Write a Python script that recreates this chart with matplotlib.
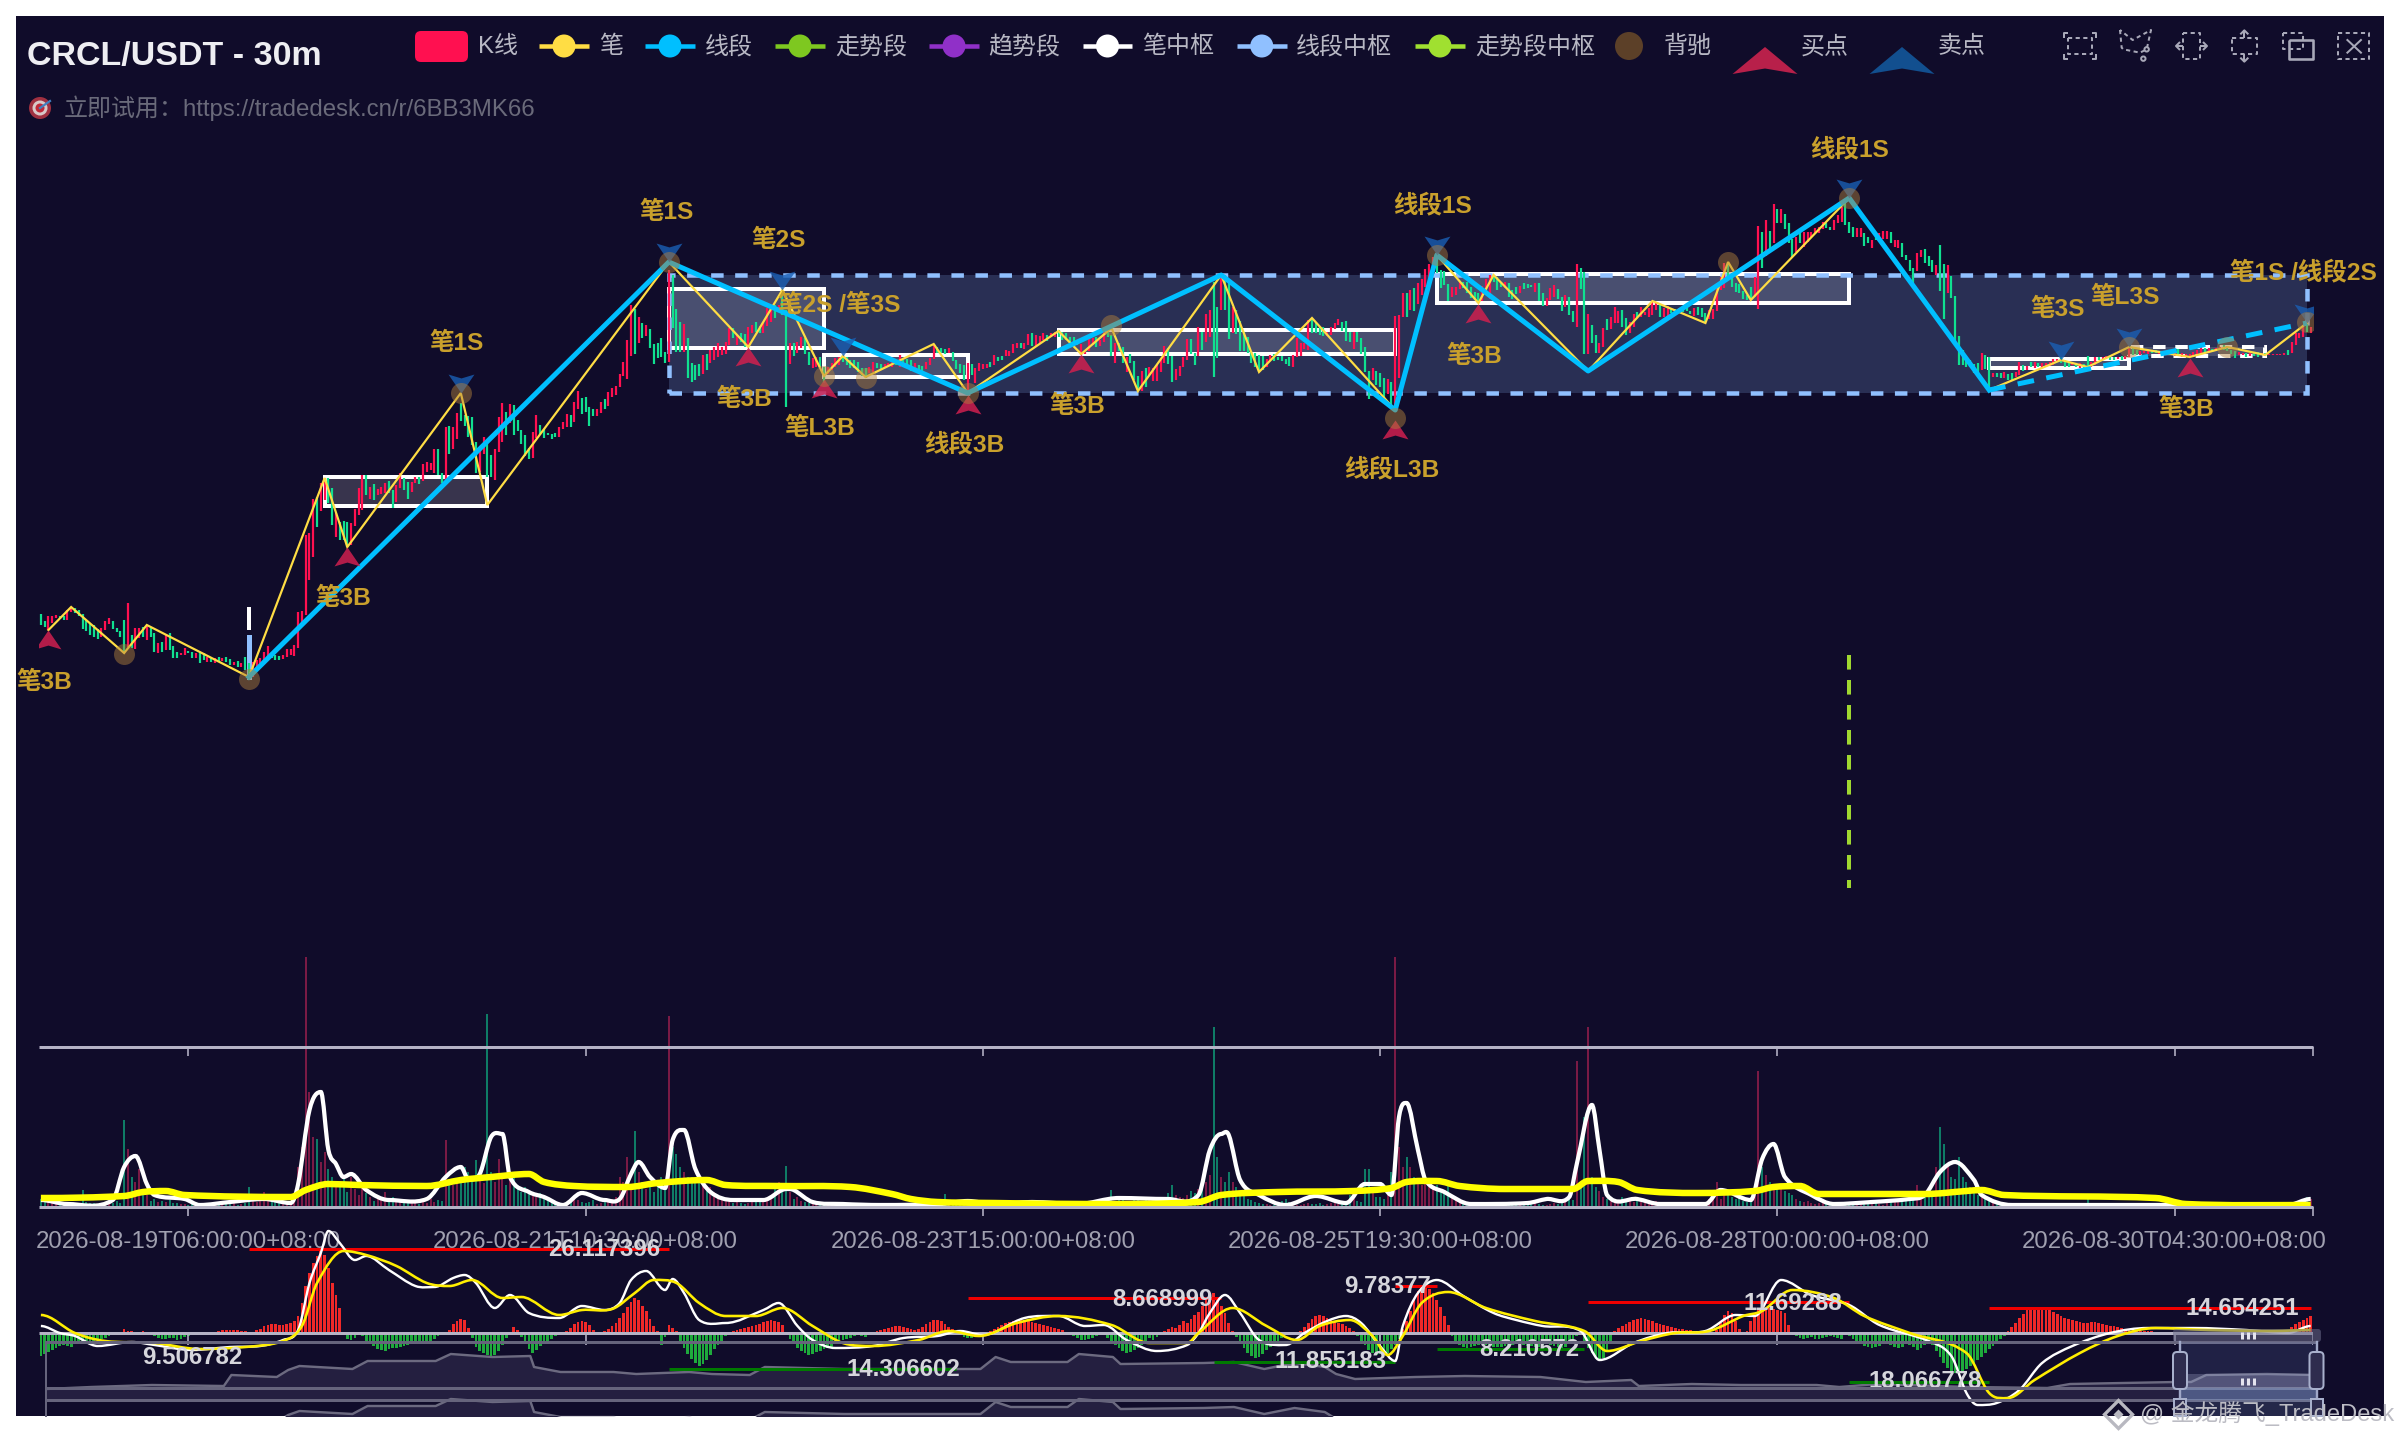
import matplotlib
matplotlib.use("Agg")
import matplotlib.pyplot as plt
from matplotlib.patches import Rectangle, FancyBboxPatch, Polygon, Circle, PathPatch
from matplotlib.path import Path

plt.rcParams['font.family'] = ['Liberation Sans', 'Noto Sans CJK SC', 'DejaVu Sans']
plt.rcParams['lines.scale_dashes'] = False

# ---------- data: candles as open,close pairs (red when close > open) ----------
candle_oc = [
86,75, 79,73, 70,84, 77,84, 82,85, 84,81, 84,80, 80,90, 88,93, 92,87,
90,84, 86,71, 80,69, 76,65, 75,63, 71,61, 63,72, 70,79, 76,82, 79,71,
72,68, 69,63, 80,47, 53,97, 65,52, 51,72, 62,72, 73,63, 60,75, 72,63,
67,48, 47,57, 58,48, 50,65, 67,50, 54,42, 48,42, 45,47, 45,52, 49,47,
48,42, 42,47, 47,37, 47,40, 38,43, 42,38, 37,42, 43,38, 39,42, 43,38,
41,35, 35,38, 39,33, 33,37, 43,30, 37,20, 23,38, 30,40, 35,42, 38,48,
42,54, 48,42, 45,40, 44,40, 41,45, 43,51, 45,51, 44,55, 52,88, 75,89,
85,165, 120,167, 143,201, 203,173, 189,217, 200,222, 222,197, 212,175, 163,187, 178,160,
179,160, 178,153, 155,177, 174,191, 185,212, 190,225, 225,205, 201,213, 216,200, 205,211,
206,213, 207,217, 219,207, 210,192, 198,215, 212,227, 222,210, 218,201, 208,218, 217,223,
223,216, 219,236, 228,238, 230,237, 227,251, 251,225, 227,217, 220,273, 274,246, 251,273,
261,287, 297,279, 285,274, 284,263, 283,255, 258,227, 228,253, 246,263, 258,223, 245,223,
220,251, 248,283, 258,297, 288,265, 277,296, 295,265, 280,269, 270,256, 265,244, 252,241,
242,268, 262,285, 275,265, 271,262, 267,265, 266,261, 267,263, 263,273, 271,278, 273,286,
285,273, 278,298, 291,309, 302,286, 303,288, 293,274, 291,284, 284,291, 287,298, 301,291,
294,308, 303,312, 305,314, 313,326, 324,338, 321,360, 344,395, 391,346, 357,383, 377,362,
364,375, 371,352, 356,336, 357,342, 362,343, 348,337, 338,430, 425,372, 391,348, 378,348,
348,376, 362,322, 337,318, 335,320, 336,324, 326,345, 346,330, 337,350, 340,353, 343,357,
345,353, 346,358, 355,372, 372,362, 355,365, 367,358, 366,353, 355,373, 367,375, 378,368,
374,367, 367,378, 374,392, 378,393, 395,382, 388,395, 409,385, 390,293, 336,357, 357,344,
347,358, 352,363, 362,346, 348,335, 332,342, 333,343, 343,333, 333,317, 326,333, 330,337,
333,342, 335,343, 345,338, 343,335, 340,332, 340,332, 338,328, 332,324, 332,322, 327,333,
328,338, 337,332, 336,331, 332,336, 333,337, 333,338, 340,335, 333,345, 340,335, 341,333,
340,329, 329,337, 335,330, 334,329, 331,338, 335,342, 341,356, 353,347, 352,347, 351,346,
347,352, 348,339, 340,331, 336,327, 335,320, 310,337, 336,325, 317,332, 329,337, 331,336,
332,336, 338,333, 335,345, 343,339, 344,340, 344,350, 344,349, 347,356, 352,357, 357,352,
351,357, 355,366, 367,354, 353,365, 357,364, 360,367, 365,359, 363,367, 363,368, 370,363,
368,360, 367,360, 363,357, 363,356, 359,355, 345,356, 346,348, 349,362, 355,362, 363,353,
354,360, 358,372, 373,363, 365,344, 337,357, 357,349, 353,337, 328,343, 346,337, 339,320,
324,309, 309,329, 332,313, 325,333, 319,332, 319,335, 328,341, 337,354, 352,336, 344,318,
320,331, 324,334, 333,343, 340,361, 361,346, 347,335, 344,373, 368,350, 358,386, 363,390,
418,323, 393,342, 390,425, 425,390, 420,361, 367,393, 390,366, 379,349, 368,349, 363,347,
349,337, 347,333, 345,328, 344,330, 333,341, 339,345, 346,339, 343,340, 344,339, 341,336,
343,334, 333,345, 343,362, 344,357, 351,357, 350,380, 381,367, 378,367, 373,365, 373,364,
364,368, 365,373, 371,377, 375,381, 378,369, 379,359, 368,358, 351,368, 368,358, 362,346,
353,328, 329,301, 320,332, 329,315, 327,313, 322,302, 306,321, 318,292, 292,384, 322,385,
383,407, 407,383, 390,410, 412,389, 396,417, 405,421, 413,431, 418,436, 428,443, 445,427,
430,412, 429,415, 416,399, 403,413, 405,413, 411,418, 418,412, 418,407, 413,402, 408,400,
407,397, 399,414, 405,421, 401,425, 425,418, 423,410, 418,413, 412,418, 417,403, 410,401,
413,406, 407,414, 417,411, 416,412, 415,413, 408,417, 417,399, 407,394, 394,402, 400,412,
403,415, 411,401, 403,389, 393,405, 403,385, 389,378, 373,436, 432,411, 428,346, 346,386,
375,357, 365,347, 347,357, 353,372, 381,370, 371,383, 377,393, 377,389, 390,373, 382,365,
367,378, 373,386, 388,383, 383,393, 385,388, 383,392, 385,399, 390,398, 396,383, 383,392,
384,394, 392,387, 391,387, 387,392, 392,388, 394,389, 389,386, 384,392, 393,385, 392,383,
387,378, 381,390, 381,391, 389,417, 410,423, 412,437, 438,420, 427,413, 417,408, 416,407,
409,401, 405,400, 413,400, 403,423, 391,474, 468,432, 444,480, 469,452, 457,496, 491,477,
477,491, 486,471, 477,457, 461,443, 448,463, 470,457, 453,468, 458,468, 463,468, 467,472,
467,473, 471,478, 477,472, 473,470, 470,480, 477,485, 478,493, 497,475, 478,467, 473,463,
463,472, 463,472, 467,454, 463,457, 452,460, 465,460, 461,467, 461,469, 461,469, 468,457,
453,460, 452,460, 457,443, 445,440, 440,429, 432,417, 429,447, 443,450, 451,437, 444,434,
440,428, 425,435, 455,409, 436,381, 407,435, 424,402, 404,357, 364,335, 350,335, 342,333,
340,333, 336,327, 337,327, 330,347, 345,331, 343,309, 323,327, 327,323, 327,322, 322,328,
326,320, 327,320, 323,328, 325,338, 335,329, 330,334, 338,333, 332,338, 337,333, 332,337,
333,337, 334,338, 335,341, 338,341, 343,337, 340,333, 338,333, 335,338, 337,333, 332,337,
336,332, 344,333, 333,338, 335,343, 343,340, 341,343, 341,344, 343,340, 343,340, 341,343,
344,340, 341,344, 343,353, 353,345, 350,345, 345,349, 347,349, 346,349, 349,347, 350,347,
346,349, 346,348, 348,345, 345,347, 344,347, 351,345, 343,347, 343,346, 343,346, 343,348,
346,350, 347,353, 352,347, 347,352, 351,348, 349,352, 350,353, 355,350, 354,349, 350,346,
349,342, 345,348, 345,347, 347,343, 344,347, 348,344, 348,343, 345,347, 347,344, 345,346,
345,346, 345,346, 345,346, 345,347, 350,345, 347,358, 355,367, 362,367, 363,375, 376,368,
367,373,
]
candle_open = candle_oc[0::2]
candle_close = candle_oc[1::2]

volume_vals = [
8,7,6,5,4,3,4,3,4,3,4,17,5,4,4,3,3,4,5,4,
6,4,87,58,30,25,38,18,12,6,8,5,6,5,7,4,4,3,3,2,
3,2,3,4,2,3,3,2,3,4,3,5,2,3,4,20,6,5,8,15,
10,6,5,4,3,4,6,10,40,60,250,115,70,68,45,55,38,30,22,25,
28,15,30,18,12,20,14,10,6,8,9,15,8,10,6,5,4,6,4,5,
3,5,4,8,5,7,6,67,28,22,25,24,40,35,30,47,30,24,193,35,
25,48,30,22,28,35,18,15,20,16,14,10,14,12,10,8,6,5,4,5,
6,8,7,5,4,5,7,3,4,5,6,8,10,30,25,50,22,76,35,25,
18,20,15,22,30,26,191,60,53,40,35,30,30,25,24,22,18,20,15,12,
10,8,6,4,5,4,3,4,6,8,6,5,6,8,20,25,18,41,15,8,
10,6,5,4,3,2,2,3,2,2,2,1,2,1,2,1,1,1,1,1,
1,1,1,2,1,1,1,1,1,2,2,2,1,2,1,2,3,2,1,13,
3,5,6,3,2,3,2,2,2,3,2,3,2,2,2,1,2,1,2,3,
2,1,2,1,2,2,1,2,1,1,2,2,3,2,4,2,3,2,2,4,
6,4,5,17,6,8,10,6,5,7,8,6,10,8,9,6,8,10,14,22,
12,10,9,12,16,14,18,20,25,32,180,50,30,25,35,25,20,14,12,8,
7,5,4,3,3,2,2,4,6,8,5,3,2,2,3,4,3,3,4,2,
3,4,5,3,3,6,12,8,6,5,38,38,15,10,10,8,12,35,250,60,
40,50,40,30,24,22,25,20,18,22,15,14,22,10,8,6,4,5,4,3,
3,2,3,2,3,4,2,3,2,2,2,3,2,3,3,4,3,2,2,3,
4,3,5,6,8,7,146,20,90,180,30,20,16,10,8,6,5,6,10,8,
7,5,6,5,4,3,3,6,5,3,2,2,3,4,3,2,3,4,3,4,
5,8,10,25,8,12,15,10,8,14,6,5,10,12,136,40,32,25,20,22,
18,16,14,12,8,6,5,6,4,3,4,5,3,4,3,2,3,4,5,4,
3,4,3,5,3,4,3,2,4,5,6,7,8,6,9,10,22,8,14,18,
16,40,80,63,40,30,28,50,30,25,20,14,12,10,8,6,5,3,2,3,
2,2,1,2,1,2,1,1,1,1,2,1,1,1,1,2,1,1,2,2,
1,8,1,2,1,2,1,1,1,1,1,1,2,1,1,1,1,1,1,1,
1,1,1,1,1,1,1,1,1,2,1,1,1,1,1,1,1,1,1,1,
1,1,1,1,1,1,1,1,1,1,1,1,2,2,3,4,6,6,8,10,8,
]

macd_hist = [
-23,-21,-19,-17,-15,-13,-12,-13,-14,-10,-10,-9,-8,-8,-8,-7,-6,-5,-3,-2,
-2,-1,4,2,2,1,1,2,1,1,-3,-5,-6,-6,-5,-5,-7,-6,-4,-3,
-2,-1,0,0,1,1,1,2,3,3,3,3,3,2,2,1,1,3,4,7,
8,9,9,8,8,9,10,12,17,30,47,60,70,77,83,78,65,50,38,25,
-1,-6,-7,-5,-2,-3,-8,-10,-13,-16,-17,-18,-16,-15,-15,-14,-13,-12,-10,-8,
-8,-10,-11,-8,-6,-3,-1,1,3,9,12,14,13,5,-5,-14,-18,-20,-22,-23,
-22,-18,-12,-5,1,6,3,-4,-11,-16,-20,-17,-13,-10,-8,-6,-3,-1,0,2,
5,9,11,12,11,8,3,0,1,2,4,7,10,15,20,26,31,35,33,27,
22,14,7,2,-12,-4,8,5,2,-8,-15,-21,-26,-30,-33,-31,-27,-22,-16,-12,
-8,-3,1,2,3,4,5,6,7,8,9,11,12,13,12,11,8,-1,-6,-11,
-15,-18,-20,-22,-21,-19,-18,-16,-15,-14,-10,-8,-7,-6,-5,-3,-2,-3,-4,-2,
1,2,3,4,5,6,7,7,6,5,4,3,4,6,9,11,13,13,12,9,
6,4,1,-2,-4,-5,-5,-4,-2,-1,1,2,4,6,8,10,11,12,13,13,
13,12,11,10,9,8,7,6,5,4,3,1,-1,-3,-5,-7,-7,-6,-5,-3,
-2,-1,-5,-9,-12,-15,-18,-20,-19,-17,-15,-12,-9,-5,-7,-4,-1,2,4,6,
5,8,12,10,14,18,21,27,33,38,40,33,27,20,10,2,-4,-9,-15,-20,
-23,-25,-24,-21,-17,-14,-11,-8,-5,-2,1,0,-1,2,6,10,14,17,18,17,
15,13,12,10,9,7,5,2,-3,-8,-12,-17,-20,-22,-21,-18,-20,-16,-12,-6,
4,12,22,33,42,48,46,44,40,33,26,17,8,-3,-10,-12,-14,-15,-14,-13,
-12,-11,-12,-13,-14,-14,-14,-13,-13,-12,-11,-11,-12,-13,-13,-14,-14,-12,-11,-12,
-13,-14,-15,-14,-10,-8,-3,-1,-8,-15,-20,-24,-27,-25,-18,-8,2,5,7,9,
11,13,14,15,14,13,12,10,9,8,7,6,5,4,4,3,3,2,2,1,
1,-1,-2,3,10,18,22,20,12,4,1,2,12,20,24,25,25,25,24,23,
22,20,8,1,-3,-5,-6,-5,-4,-6,-6,-5,-4,-3,-4,-5,-6,-2,-3,-6,
-8,-11,-13,-14,-15,-14,-13,-11,-10,-12,-14,-15,-14,-11,-12,-14,-17,-15,-12,-9,
-12,-18,-24,-30,-35,-38,-40,-40,-38,-36,-33,-30,-27,-24,-20,-16,-13,-9,-6,-3,
2,6,10,15,19,23,25,26,26,26,25,23,21,19,17,15,14,13,12,11,
10,10,11,11,10,9,8,7,7,6,5,4,4,3,3,2,2,2,2,1,
1,1,1,1,0,-1,-1,-1,-1,-1,-1,-1,-2,-2,-2,-2,-2,-2,-1,-1,
0,-2,-2,-1,-2,-2,-2,-1,-1,0,1,1,1,1,3,6,9,11,13,15,17,
]

dif_idx = [0,5,9,15,24,30,40,50,58,64,68,71,74,76,79,83,86,92,99,104,109,112,115,120,124,129,137,143,149,153,156,160,165,167,170,174,181,191,195,200,204,210,220,228,237,243,249,260,269,276,281,287,295,303,306,309,313,317,322,329,334,340,345,349,354,358,360,364,369,376,384,390,397,407,412,421,430,440,448,453,460,468,478,486,499,505,509,512,517,523,529,537,547,557,569,583,594,600]
dif_val = [7,0,-3,-13,-9,-12,-17,-14,-13,-7,3,50,80,102,90,73,77,63,47,46,55,58,50,25,38,20,15,27,23,30,53,62,43,54,40,13,10,23,30,7,-7,-15,-13,-5,-3,2,-2,15,17,7,8,-7,-18,-12,0,20,38,20,-7,-12,0,12,17,10,-13,-28,7,40,53,37,20,13,7,2,-27,-10,0,2,18,17,53,38,28,8,-8,-23,-60,-72,-70,-57,-30,-13,0,5,5,3,0,7]
dea_idx = [0,9,17,30,42,54,64,69,73,80,86,94,102,108,114,122,127,137,143,151,157,162,168,174,181,189,196,204,212,220,232,240,248,258,269,283,293,303,306,315,324,332,338,346,352,356,360,365,372,382,395,408,414,423,432,441,450,455,463,474,482,494,509,515,520,527,539,549,559,573,590,600]
dea_val = [18,0,-8,-10,-16,-14,-8,7,50,82,78,67,50,47,53,35,36,18,23,24,40,53,50,30,17,17,25,7,-10,-13,-7,2,-3,10,17,8,-10,-10,0,25,7,-7,7,13,-3,-22,-3,30,41,25,12,2,-18,-8,0,2,17,22,43,35,17,0,-20,-60,-65,-47,-20,-3,5,3,2,3]

vol_ma5_idx = [0,7,19,22,25,28,30,38,42,50,59,66,68,71,74,76,78,80,82,86,92,102,107,111,113,116,119,122,124,129,133,138,143,149,153,156,158,161,165,167,170,173,177,183,191,197,199,204,212,222,238,245,252,262,274,285,298,306,309,312,314,317,322,329,337,345,350,354,357,359,361,364,366,371,378,393,398,404,406,410,412,414,422,428,440,444,452,455,458,461,468,474,484,494,498,502,506,511,513,521,549,594,600]
vol_ma5_val = [7,3,7,40,51,23,12,8,2,5,8,4,23,97,115,57,43,30,33,17,7,8,30,40,28,33,70,73,30,15,10,2,14,7,8,33,45,30,19,67,77,38,15,7,7,18,17,5,3,2,3,6,3,5,3,9,8,12,57,73,72,27,12,2,11,4,23,23,12,90,104,57,27,15,3,4,8,10,43,102,57,12,8,3,3,17,7,48,63,30,12,3,5,8,12,35,45,27,12,2,2,2,8]
vol_ma20_idx = [0,22,27,33,38,66,70,76,84,102,111,119,129,133,141,155,163,176,181,195,214,225,230,237,252,276,306,312,327,347,357,361,369,375,387,405,409,417,422,438,453,458,465,470,498,509,513,519,559,567,600]
vol_ma20_val = [9,11,15,16,12,10,17,23,22,21,27,30,33,25,21,20,24,27,22,21,20,13,8,5,4,3,5,12,15,16,19,25,26,21,18,18,26,25,17,14,16,20,21,13,13,16,17,12,9,3,2]

pen_idx = [2,8,22,28,55,75,81,111,118,166,187,196,207,212,218,236,245,269,275,283,290,312,322,336,358,369,380,384,409,426,440,446,452,478,515,534,541,552,568,578,588,599]
pen_val = [70,93,47,75,23,222,153,307,195,438,353,410,324,344,323,356,307,369,346,372,309,425,328,382,290,445,397,425,329,399,377,438,400,502,310,340,333,353,343,353,345,377]
seg_idx = [55,166,245,312,358,369,409,478,515]
seg_val = [23,438,307,425,290,445,329,502,310]
seg_open_idx = [515,599]
seg_open_val = [310,377]

pen_hub_start = [75,166,207,269,369,515]
pen_hub_end = [118,207,245,358,478,552]
pen_hub_low = [194,352,323.5,346,397,332]
pen_hub_high = [223,411,345.5,370,426,341]
open_hub = (552,588,344,353)
seg_hub = (166,599,307.4,425.4)

buy_idx = [2,81,187,207,245,275,380,358,568]
buy_val = [70,153,353,321,305,346,396,280,342]
sell_idx = [111,166,196,212,369,478,534,552,599]
sell_val = [307,438,410,344,445,502,340,353,377]
div_idx = [22,55,111,166,207,218,245,283,358,369,446,478,552,578,599]
div_val = [46,21,307,438,324,322,307,375,282,445,438,502,353,353,378]

label_texts = ['笔3B','笔3B','笔1S','笔1S','笔2S','笔2S /笔3S','笔3B','笔L3B','线段3B','笔3B','线段1S','线段1S','笔3B','线段L3B','笔3S','笔L3S','笔1S /线段2S','笔3B']
label_idx = [0.8,80,110,165.5,195,211,186,206,244,274,368,478,379,357,533,551,598,567]
label_val = [17.5,101.5,356.5,487.5,459.5,394.5,300.5,271.5,255.5,293.5,494.5,550.5,344,230.5,390.5,402.5,427.5,290.5]

tick_idx = [39,144,249,354,459,564]
tick_labels = ['2026-08-19T06:00:00+08:00','2026-08-21T10:30:00+08:00','2026-08-23T15:00:00+08:00',
               '2026-08-25T19:30:00+08:00','2026-08-28T00:00:00+08:00','2026-08-30T04:30:00+08:00']

mark_texts = ['26.117396','9.506782','14.306602','8.668999','9.78377','11.855183','8.210572','11.69288','14.654251','18.066778']
mark_idx = [149,40,228,296.4,356,341,393.4,463,582,498]
mark_val = [83.5,-24.5,-36.5,33.5,46.5,-28.5,-16.5,29.5,24.5,-48.5]
red_line_start = [55,245,358,409,515]
red_line_end = [166,312,369,478,600]
red_line_val = [84,35,47,31,25]
green_line_start = [166,310,369,478]
green_line_end = [242,358,408,515]
green_line_val = [-36,-29,-16,-49]

slider_idx = [0,12,28,47,49,61,64,67,81,85,103,107,118,128,129,136,150,156,170,176,186,190,211,229,247,251,255,270,273,282,284,306,314,322,330,338,341,346,362,375,395,407,419,421,435,448,468,474,484,508,529,535,563,567,571,587,600]
slider_val = [-1,1,3,2,13,11,18,22,19,27,27,34,31,32,21,16,16,14,16,14,13,21,19,19,19,31,26,26,34,31,24,25,26,19,25,21,14,9,11,12,11,6,8,2,4,3,3,1,4,1,0,4,6,6,13,14,13]

# ---------- style ----------
BG = '#100c2a'
RED, GREEN = '#ff1050', '#10e090'
GOLD = '#c9a02c'
BLUE_HUB = '#90c0ff'
YEL = '#ffdd44'
CYAN = '#00bfff'
AXC = '#b5b3c6'
W, H = 2400, 1440
PT = 72 / 100  # points per pixel at dpi 100

fig = plt.figure(figsize=(24, 14.4), dpi=100, facecolor='white')


def px_axes(x0, y0, x1, y1, z):
    a = fig.add_axes([x0 / W, 1 - y1 / H, (x1 - x0) / W, (y1 - y0) / H], zorder=z)
    a.axis('off')
    a.patch.set_alpha(0)
    return a


def smooth_line(a, xv, yv, **kw):
    """Draw a polyline through the given points with monotone cubic joins."""
    m = []
    for k in range(len(xv)):
        if k == 0 or k == len(xv) - 1:
            m.append(0.0)
            continue
        d0 = yv[k] - yv[k - 1]
        d1 = yv[k + 1] - yv[k]
        m.append(0.0 if d0 * d1 <= 0 else (yv[k + 1] - yv[k - 1]) / (xv[k + 1] - xv[k - 1]))
    verts = [(xv[0], yv[0])]
    codes = [Path.MOVETO]
    for k in range(len(xv) - 1):
        dx = (xv[k + 1] - xv[k]) / 3
        verts += [(xv[k] + dx, yv[k] + m[k] * dx), (xv[k + 1] - dx, yv[k + 1] - m[k + 1] * dx), (xv[k + 1], yv[k + 1])]
        codes += [Path.CURVE4] * 3
    a.add_patch(PathPatch(Path(verts, codes), fc='none', clip_on=False, **kw))


L, R = 39, 2312.6
ax_bg = px_axes(0, 0, W, H, 0)
ax_bg.set_xlim(0, W); ax_bg.set_ylim(H, 0)
ax_bg.add_patch(Rectangle((16, 16), 2368, 1400, fc=BG, ec='none'))

n_bars = len(candle_open)
xs = list(range(n_bars))

# ---------- main chart ----------
ax = px_axes(L, 100, R, 1000, 2)
ax.set_xlim(-0.5, 600.5)
ax.set_ylim(-300, 600)

s, e, lo, hi = seg_hub
for st, en, l, h in zip(pen_hub_start, pen_hub_end, pen_hub_low, pen_hub_high):
    ax.add_patch(Rectangle((st, l), en - st, h - l, fc='white', alpha=0.17, ec='none', zorder=1))
    ax.add_patch(Rectangle((st, l), en - st, h - l, fc='none', ec='white', lw=4 * PT, zorder=2.5))
st, en, l, h = open_hub
ax.add_patch(Rectangle((st, l), en - st, h - l, fc='white', alpha=0.17, ec='none', zorder=1))
ax.add_patch(Rectangle((st, l), en - st, h - l, fc='none', ec='white', lw=4 * PT, ls=(0, (9, 7)), zorder=2.5))
ax.add_patch(Rectangle((s, lo), e - s, hi - lo, fc=BLUE_HUB, alpha=0.2, ec='none', zorder=1))
ax.add_patch(Rectangle((s, lo), e - s, hi - lo, fc='none', ec=BLUE_HUB, lw=4.5 * PT, ls=(0, (9, 8.3)), zorder=2.6))

# degenerate hubs (start and end at the same bar)
ax.plot([55, 55], [93, 70], color='white', lw=4 * PT, ls=(0, (20, 100)), zorder=2.5)
ax.plot([55, 55], [63, 23], color=BLUE_HUB, lw=5 * PT, zorder=2.5)
ax.plot([478, 478], [45, -188], color='#a0d830', lw=4 * PT, ls=(0, (10.5, 7.5)), zorder=2.5)

up = [c > o for o, c in zip(candle_open, candle_close)]
ax.vlines(xs, [min(o, c) for o, c in zip(candle_open, candle_close)],
          [max(o, c) for o, c in zip(candle_open, candle_close)],
          colors=[RED if u else GREEN for u in up], lw=2.2 * PT, zorder=3)

ax.plot(pen_idx, pen_val, color=YEL, lw=2.2 * PT, zorder=4, solid_joinstyle='miter')
ax.plot(seg_idx, seg_val, color=CYAN, lw=5 * PT, zorder=5)
ax.plot(seg_open_idx, seg_open_val, color=CYAN, lw=5 * PT, ls=(0, (12, 9)), zorder=5)

arrow_up = Path([(0, 0), (1, -1.46), (0, -1.16), (-1, -1.46), (0, 0)], closed=True)
arrow_dn = Path([(0, 0), (1, 1.46), (0, 1.16), (-1, 1.46), (0, 0)], closed=True)
ax.plot(buy_idx, buy_val, ls='none', marker=arrow_up, ms=27.3, mfc='#d0204f', mec='none', alpha=0.85, zorder=6)
ax.plot(sell_idx, sell_val, ls='none', marker=arrow_dn, ms=27.3, mfc='#1a5fb4', mec='none', alpha=0.8, zorder=6)
ax.plot(div_idx, div_val, ls='none', marker='o', ms=21 * PT, mfc='#b0803c', mec='none', alpha=0.48, zorder=7)

for t, i, v in zip(label_texts, label_idx, label_val):
    ax.text(i, v, t, color=GOLD, fontsize=24.5 * PT, fontweight='bold', ha='center', va='center', zorder=8, clip_on=False)

# ---------- volume ----------
ax_v = px_axes(L, 957, R, 1207, 3)
ax_v.set_xlim(-0.5, 600.5)
ax_v.set_ylim(0, 250)
ax_v.vlines(xs, 0, volume_vals, colors=['#7a1a45' if u else '#0f7c66' for u in up], lw=2 * PT, zorder=1)
smooth_line(ax_v, vol_ma5_idx, vol_ma5_val, ec='white', lw=4.2 * PT, zorder=2)
smooth_line(ax_v, vol_ma20_idx, vol_ma20_val, ec='#ffff00', lw=6.5 * PT, zorder=3)
for yv in (160, 0):
    ax_v.plot([-0.5, 600.5], [yv, yv], color=AXC, lw=3 * PT, zorder=4, clip_on=False, solid_capstyle='butt')
    ax_v.vlines(tick_idx + [600.5], yv, yv - 9, colors=AXC, lw=1.6 * PT, zorder=4, clip_on=False)
for i, t in zip(tick_idx, tick_labels):
    ax_v.text(i, -35, t, color='#a0a0b0', fontsize=24 * PT, ha='center', va='center', clip_on=False)

# ---------- dataZoom slider ----------
ax_s = px_axes(46, 1342, 2316, 1416, 1)
ax_s.set_xlim(0, 600)
ax_s.set_ylim(-28, 46)
ax_s.fill_between(slider_idx, slider_val, 0, color='#241f40', zorder=1)
ax_s.plot(slider_idx, slider_val, color='#6c6a80', lw=2.4 * PT, zorder=2)
lower = [v - 45 for v in slider_val]
ax_s.fill_between(slider_idx, lower, -45, color='#241f40', zorder=1)
ax_s.plot(slider_idx, lower, color='#6c6a80', lw=2.4 * PT, zorder=2)
ax_s.add_patch(Rectangle((0, -12), 600, 12, fc='#241f40', ec='none', zorder=1))

# ---------- MACD ----------
ax_m = px_axes(L, 1240, R, 1420, 4)
ax_m.set_xlim(-0.5, 600.5)
ax_m.set_ylim(-87, 93)
ax_m.bar(xs, macd_hist, width=0.72, color=['#f02828' if v >= 0 else '#1eaa3c' for v in macd_hist], zorder=1)
ax_m.plot([-0.5, 600.5], [0, 0], color=AXC, lw=3 * PT, zorder=2, solid_capstyle='butt')
ax_m.vlines(tick_idx + [600.5], 0, -12, colors=AXC, lw=1.6 * PT, zorder=2)
ax_m.hlines(red_line_val, red_line_start, red_line_end, colors='#f00000', lw=3 * PT, zorder=3)
ax_m.hlines(green_line_val, green_line_start, green_line_end, colors='#007a00', lw=3 * PT, zorder=3)
smooth_line(ax_m, dif_idx, dif_val, ec='white', lw=2.4 * PT, zorder=4)
smooth_line(ax_m, dea_idx, dea_val, ec='#ffee00', lw=2.6 * PT, zorder=5)
for t, i, v in zip(mark_texts, mark_idx, mark_val):
    ax_m.text(i, v, t, color='#d6d6dc', fontsize=24 * PT, fontweight='bold', ha='center', va='center', zorder=6, clip_on=False)

# ---------- overlay: title, legend, toolbox, slider frame, watermark ----------
ui = px_axes(0, 0, W, H, 5)
ui.set_xlim(0, W); ui.set_ylim(H, 0)
ui.text(27, 57, 'CRCL/USDT - 30m', color='#eeeef2', fontsize=34 * PT, fontweight='bold', va='center')
ui.add_patch(Circle((40, 108), 11, fc='#a03040', ec='none'))
ui.add_patch(Circle((40, 108), 7.5, fc='#d8c8c8', ec='none'))
ui.add_patch(Circle((40, 108), 4.5, fc='#c02838', ec='none'))
ui.plot([40, 50], [108, 101], color='#4080c0', lw=1.6)
ui.text(63.5, 108, '立即试用：https://tradedesk.cn/r/6BB3MK66', color='#6a6a7a', fontsize=24 * PT, va='center')

LEG_T = '#b8b8c4'
LY = 47
ui.add_patch(FancyBboxPatch((421, 37), 41, 19, boxstyle='round,pad=6,rounding_size=6', fc=RED, ec='none'))
ui.text(478, LY, 'K线', color=LEG_T, fontsize=24 * PT, va='center')
legend_items = [(539, 589, 599, '笔', '#ffdd44'), (645, 695, 705, '线段', CYAN),
                (775, 825, 835, '走势段', '#7ec820'), (929, 979, 988.5, '趋势段', '#9030c8'),
                (1083, 1132, 1142, '笔中枢', 'white'), (1237, 1286.5, 1296, '线段中枢', BLUE_HUB),
                (1415, 1465, 1475, '走势段中枢', '#a0e030')]
for x0, x1, tx, t, c in legend_items:
    ui.plot([x0, x1], [46, 46], color=c, lw=4.5 * PT, solid_capstyle='butt')
    ui.add_patch(Circle(((x0 + x1) / 2, 46), 11.5, fc=c, ec='none'))
    ui.text(tx, LY, t, color=LEG_T, fontsize=24 * PT, va='center')
ui.add_patch(Circle((1629, 46), 14, fc='#5c4028', ec='none'))
ui.text(1664, LY, '背驰', color=LEG_T, fontsize=24 * PT, va='center')
for x0, c, tx, t in [(1732.5, '#b8204a', 1800.6, '买点'), (1869.5, '#124f8f', 1937, '卖点')]:
    ui.add_patch(Polygon([(x0 + 32.5, 47), (x0 + 65, 74), (x0 + 32.5, 68.5), (x0, 74)], fc=c, ec='none'))
    ui.text(tx, LY, t, color=LEG_T, fontsize=24 * PT, va='center')

IC = '#a8a8b8'


def zx(X):
    return 2040 + X / 3


def zy(Y):
    return 16 + Y / 3


def icon(Xs, Ys, ls='-', lw=2):
    ui.plot([zx(v) for v in Xs], [zy(v) for v in Ys], color=IC, lw=lw * PT, ls=ls, solid_capstyle='butt')


DOT = (0, (3, 2.5))
icon([72, 72, 85], [65, 52, 52]); icon([155, 167, 167], [52, 52, 65])
icon([72, 72, 85], [115, 128, 128]); icon([155, 167, 167], [128, 128, 115])
icon([85, 155, 155, 85, 85], [65, 65, 115, 115, 65], DOT)
icon([240, 245, 250, 300, 320, 333, 278, 240], [42, 95, 100, 110, 100, 42, 72, 42], DOT)
ui.add_patch(Circle((zx(320), zy(100)), 2.2, fc='none', ec=IC, lw=1.4))
ui.add_patch(Circle((zx(310), zy(128)), 2.2, fc='none', ec=IC, lw=1.4))
icon([430, 480, 480, 430, 430], [52, 52, 128, 128, 52], DOT)
icon([408, 430], [90, 90]); icon([420, 408, 420], [78, 90, 102])
icon([480, 501], [90, 90]); icon([489, 501, 489], [78, 90, 102])
icon([575, 652, 652, 575, 575], [65, 65, 115, 115, 65], DOT)
icon([613, 613], [43, 65]); icon([601, 613, 625], [55, 43, 55])
icon([613, 613], [115, 137]); icon([601, 613, 625], [125, 137, 125])
icon([728, 790, 790, 728, 728], [52, 52, 100, 100, 52], DOT)
icon([747, 820, 820, 747, 747], [72, 72, 128, 128, 72], lw=2.6)
icon([895, 988, 988, 895, 895], [52, 52, 128, 128, 52], DOT)
icon([920, 965], [70, 112]); icon([965, 920], [70, 112])

# slider frame
FR = '#66647c'
for yy in (1342, 1388, 1400):
    ui.plot([46, 2316], [yy, yy], color=FR, lw=3 * PT, solid_capstyle='butt', zorder=1)
ui.plot([46, 46], [1342, 1416], color=FR, lw=2 * PT, zorder=1)
ui.add_patch(Rectangle((2180, 1342), 137, 32, fc='#8fb0ff', alpha=0.13, ec='none', zorder=1))
ui.add_patch(Rectangle((2180, 1374), 137, 14, fc='#9aa6d0', alpha=0.40, ec='none', zorder=1))
ui.add_patch(Rectangle((2180, 1388), 137, 12, fc='#88a8e0', alpha=0.42, ec='none', zorder=1))
ui.add_patch(Rectangle((2180, 1400), 137, 16, fc='#88a8e0', alpha=0.18, ec='none', zorder=1))
ui.add_patch(FancyBboxPatch((2175, 1331), 144, 9, boxstyle='round,pad=2,rounding_size=3', fc='#6a6a88', alpha=0.55, ec='none', zorder=1))
for hx in (2180, 2316.5):
    ui.plot([hx, hx], [1342, 1416], color='#a0a8c8', lw=2.4 * PT, zorder=1.5)
    ui.add_patch(FancyBboxPatch((hx - 4, 1355), 8, 31, boxstyle='round,pad=3,rounding_size=4', fc='#2e2c4e', ec='#a8b0cc', lw=2 * PT, zorder=2))
    ui.add_patch(Rectangle((hx - 6, 1399), 12, 17, fc='#2e2c4e', ec='#a8b0cc', lw=2 * PT, zorder=2))
for yy in (1335.5, 1381):
    for dx in (-6, 0, 6):
        ui.plot([2248 + dx, 2248 + dx], [yy - 3.5, yy + 3.5], color='#e4e4ee', lw=3 * PT, solid_capstyle='butt', zorder=3)

# watermark
ui.plot([2118], [1414], marker='D', ms=14, mfc='none', mec='#b8b8c0', mew=2.4, ls='none', clip_on=False, zorder=9)
ui.plot([2118], [1414], marker='D', ms=5, mfc='#b8b8c0', mec='none', ls='none', clip_on=False, zorder=9)
ui.text(2140, 1413, '@ 金龙腾飞_TradeDesk', color='#bcbcc4', fontsize=23.8 * PT, va='center', zorder=9, clip_on=False)

fig.savefig('out.png', dpi=100, facecolor='white')
